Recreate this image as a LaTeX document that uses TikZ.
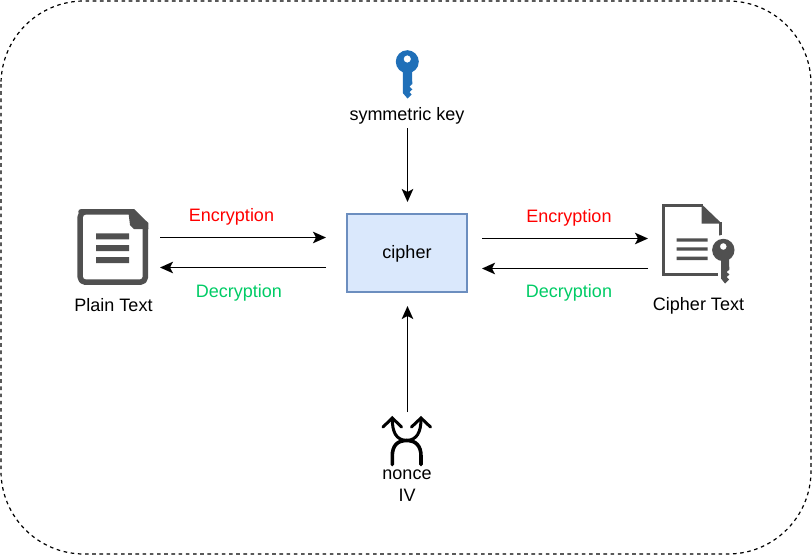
\documentclass[tikz,border=0pt]{standalone}
\usepackage{fontspec}
\setmainfont{Liberation Sans}
\usetikzlibrary{arrows.meta}
\definecolor{keyblue}{HTML}{1F6FB8}
\definecolor{icongray}{HTML}{505050}
\definecolor{boxfill}{HTML}{DAE8FC}
\definecolor{boxline}{HTML}{6C8EBF}
\definecolor{decgreen}{HTML}{00CC66}
\tikzset{
  lbl/.style={font=\fontsize{18}{21}\selectfont,text=black,inner sep=0pt},
  enc/.style={lbl,text=red},
  dec/.style={lbl,text=decgreen},
  conn/.style={draw=black,line width=1.35pt,-{Stealth[length=13pt,width=11.5pt,inset=3pt]}},
  frame/.style={draw=black,line width=1.2pt,dash pattern=on 3.6pt off 3.6pt,rounded corners=83pt}
}
\begin{document}
\begin{tikzpicture}[x=1pt,y=-1pt]
\useasboundingbox (0,0) rectangle (812,555);
\fill[white] (0,0) rectangle (812,555);
\draw[frame] (1,1) rectangle (811,554);

% central box
\node[draw=boxline,fill=boxfill,line width=1.2pt,minimum width=120pt,minimum height=78pt,inner sep=0pt,lbl] (cipher) at (407,253) {};
\node[lbl] (ciphertxt) at (407,253.5) {cipher};

% symmetric key icon
\fill[keyblue,even odd rule] (407.3,61.7) circle (11.5) (407.3,59) circle (3.7);
\fill[keyblue] (402.8,70) -- (402.8,93) -- (407.5,98.5) -- (411.5,94.5) -- (409.5,92) -- (412.3,89.5) -- (409.5,86.5) -- (412.3,84) -- (412,70) -- cycle;
\node[lbl] (symkey) at (407,116) {symmetric key};

% plain text icon
\draw[icongray,line width=5.5pt,line join=round,rounded corners=5pt] (130,211.8) -- (86,211.8) -- (80.2,211.8) -- (80.2,282.2) -- (145.4,282.2) -- (145.4,228);
\fill[icongray] (128,209) -- (134,209) -- (148.3,223) -- (148.3,229) -- (134,229) -- (130,225) -- cycle;
\fill[icongray] (96,233.3) rectangle (129,239.3) (96,245) rectangle (129,251) (96,257) rectangle (129,263);
\node[lbl] (plain) at (113.5,305.5) {Plain Text};

% cipher text icon
\draw[icongray,line width=3pt] (703,205.8) -- (663.8,205.8) -- (663.8,274.5) -- (718,274.5);
\draw[icongray,line width=3pt] (720.2,222) -- (720.2,237);
\fill[icongray] (701.7,204.3) -- (721.7,223.5) -- (701.7,223.5) -- cycle;
\fill[icongray] (676.7,238.3) rectangle (707.7,241.7) (676.7,247.3) rectangle (707.7,250.7) (676.7,256.7) rectangle (707.7,260);
\fill[white] (723.3,247.7) circle (13);
\fill[white] (717.5,255) rectangle (731,285);
\fill[icongray,even odd rule] (723.3,250) circle (11.2) (723.3,246.5) circle (3.4);
\fill[icongray] (721,256) -- (721,278.5) -- (725,283.5) -- (729,279.5) -- (726.7,277) -- (729.3,274.5) -- (726.7,272) -- (729.3,269.5) -- (729,256) -- cycle;
\node[lbl] (ctext) at (698.5,305.5) {Cipher Text};

% nonce icon
\draw[black,line width=3.6pt,line cap=round,line join=round]
  (392.3,464.5) -- (392.3,456) .. controls (392.3,446) and (397,440.5) .. (406.7,440.5)
  .. controls (416,440.5) and (421,446) .. (421,456) -- (421,464.5);
\draw[black,line width=3pt,line cap=round,line join=round]
  (392.3,419) .. controls (392.3,432) and (396,440) .. (406.7,440.5)
  .. controls (417,440) and (421,432) .. (421,419);
\draw[black,line width=3pt,line cap=round,line join=miter]
  (383,427) -- (392.3,418) -- (401.5,427);
\draw[black,line width=3pt,line cap=round,line join=miter]
  (411.5,427) -- (421,418) -- (430.5,427);
\node[lbl] (nonce) at (407,474.5) {nonce};
\node[lbl] (iv) at (407,495.5) {IV};

% labels
\node[enc] (enc1) at (231.5,216.5) {Encryption};
\node[dec] (dec1) at (239,292.5) {Decryption};
\node[enc] (enc2) at (569,217.5) {Encryption};
\node[dec] (dec2) at (569,292.5) {Decryption};

% connector ends
\coordinate (pr1) at (160,237.5);
\coordinate (cl1) at (326,237.5);
\coordinate (cl2) at (326,267.5);
\coordinate (pr2) at (160,267.5);
\coordinate (cr1) at (482,238.5);
\coordinate (dl1) at (648,238.5);
\coordinate (dl2) at (648,268.5);
\coordinate (cr2) at (482,268.5);
\coordinate (kb) at (407.5,128);
\coordinate (ct) at (407.5,202);
\coordinate (nt) at (407.5,412);
\coordinate (cb) at (407.5,306);

\draw[conn] (pr1) -- (cl1);
\draw[conn] (cl2) -- (pr2);
\draw[conn] (cr1) -- (dl1);
\draw[conn] (dl2) -- (cr2);
\draw[conn] (kb) -- (ct);
\draw[conn] (nt) -- (cb);
\end{tikzpicture}
\end{document}
